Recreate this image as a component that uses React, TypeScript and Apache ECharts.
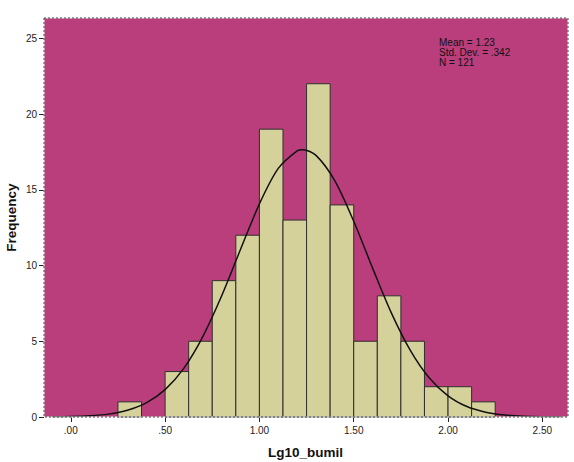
import React, { useEffect, useRef } from "react";
import * as echarts from "echarts";

// Histogram bins (Lg10_bumil), width .125
const binEdges = [0.25, 0.375, 0.5, 0.625, 0.75, 0.875, 1.0, 1.125, 1.25, 1.375, 1.5, 1.625, 1.75, 1.875, 2.0, 2.125, 2.25];
const counts = [1, 0, 3, 5, 9, 12, 19, 13, 22, 14, 5, 8, 5, 2, 2, 1];

// Fitted normal curve
const curveX = [-0.1, 0.0, 0.1, 0.2, 0.3, 0.4, 0.5, 0.6, 0.7, 0.8, 0.9, 1.0, 1.1, 1.2, 1.23, 1.3, 1.4, 1.5, 1.6, 1.7, 1.8, 1.9, 2.0, 2.1, 2.2, 2.3, 2.4, 2.5, 2.6];
const curveY = [0.01, 0.03, 0.08, 0.19, 0.44, 0.93, 1.81, 3.23, 5.31, 8.0, 11.07, 14.07, 16.41, 17.57, 17.64, 17.27, 15.59, 12.92, 9.83, 6.86, 4.4, 2.59, 1.4, 0.69, 0.32, 0.13, 0.05, 0.02, 0.01];

const xTicks = [0, 0.5, 1.0, 1.5, 2.0, 2.5];
const yTicks = [0, 5, 10, 15, 20, 25];
const statsLines = ["Mean = 1.23", "Std. Dev. = .342", "N = 121"];
const xTitle = "Lg10_bumil";
const yTitle = "Frequency";

const FONT = "'Liberation Sans', Arial, sans-serif";

export default function App() {
  const ref = useRef<HTMLDivElement>(null);
  useEffect(() => {
    if (!ref.current) return;
    const chart = echarts.init(ref.current, null, { renderer: "svg" });
    const binData = counts
      .map((c, i) => [binEdges[i], binEdges[i + 1], c])
      .filter((d) => d[2] > 0);
    const gl = 44, gt = 18, gw = 524, gh = 399;
    const statsTexts = statsLines.map((t, i) => ({
      type: "text",
      z: 12,
      x: 439,
      y: 42.5 + i * 10,
      style: {
        text: t,
        font: `10px ${FONT}`,
        fill: "#111",
        verticalAlign: "middle",
      },
    }));
    const option: any = {
      animation: false,
      backgroundColor: "#ffffff",
      textStyle: { fontFamily: FONT },
      grid: {
        left: gl, top: gt, width: gw, height: gh,
        show: true,
        backgroundColor: "#BA3E7B",
        borderWidth: 0,
      },
      xAxis: {
        type: "value",
        min: -0.142,
        max: 2.636,
        axisLine: { show: false, onZero: false },
        splitLine: { show: false },
        axisTick: { show: true, length: 5, lineStyle: { color: "#222", width: 1 }, customValues: xTicks },
        axisLabel: {
          customValues: xTicks,
          margin: 8,
          fontSize: 10,
          color: "#222",
          fontFamily: FONT,
          formatter: (v: number) => {
            const s = v.toFixed(2);
            return s.startsWith("0") ? s.slice(1) : s;
          },
        },
      },
      yAxis: {
        type: "value",
        min: 0,
        max: 26.34,
        axisLine: { show: false, onZero: false },
        splitLine: { show: false },
        axisTick: { show: true, length: 5, lineStyle: { color: "#222", width: 1 }, customValues: yTicks },
        axisLabel: { customValues: yTicks, margin: 7, fontSize: 10, color: "#222", fontFamily: FONT },
      },
      series: [
        {
          type: "custom",
          data: binData,
          encode: { x: [0, 1], y: 2 },
          z: 2,
          renderItem: (params: any, api: any) => {
            const p0 = api.coord([api.value(0), api.value(2)]);
            const p1 = api.coord([api.value(1), 0]);
            return {
              type: "rect",
              shape: { x: p0[0], y: p0[1], width: p1[0] - p0[0], height: p1[1] - p0[1] },
              style: { fill: "#D5D19B", stroke: "#2f2f2f", lineWidth: 1 },
            };
          },
        },
        {
          type: "line",
          data: curveX.map((x, i) => [x, curveY[i]]),
          smooth: 0.3,
          showSymbol: false,
          symbol: "none",
          z: 3,
          lineStyle: { color: "#111", width: 1.5 },
        },
      ],
      graphic: [
        {
          type: "rect",
          z: 10,
          silent: true,
          shape: { x: gl, y: gt, width: gw, height: gh },
          style: { fill: "none", stroke: "#ffffff", lineWidth: 1 },
        },
        {
          type: "rect",
          z: 11,
          silent: true,
          shape: { x: gl, y: gt, width: gw, height: gh },
          style: { fill: "none", stroke: "#444444", lineWidth: 1, lineDash: [2, 2] },
        },
        ...statsTexts,
        {
          type: "text",
          z: 12,
          x: 305.5,
          y: 452,
          style: {
            text: xTitle,
            font: `bold 13.5px ${FONT}`,
            fill: "#111",
            align: "center",
            verticalAlign: "middle",
          },
        },
        {
          type: "text",
          z: 12,
          x: 11,
          y: 217.5,
          rotation: Math.PI / 2,
          style: {
            text: yTitle,
            font: `bold 13.5px ${FONT}`,
            fill: "#111",
            align: "center",
            verticalAlign: "middle",
          },
        },
      ],
    };
    chart.setOption(option);
    return () => chart.dispose();
  }, []);
  return (
    <div
      ref={ref}
      style={{ position: "fixed", left: 0, top: 0, width: 574, height: 462 }}
    />
  );
}
